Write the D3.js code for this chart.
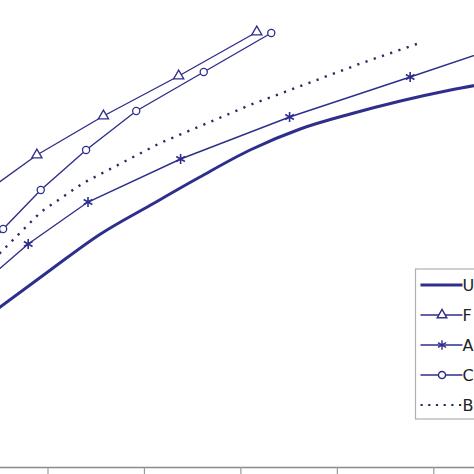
<!DOCTYPE html>
<html>
<head>
<meta charset="utf-8">
<script src="https://cdn.jsdelivr.net/npm/d3@7"></script>
<style>
  body { margin: 0; background: #fff; }
  svg { display: block; overflow: hidden; font-family: "DejaVu Sans", sans-serif; }
</style>
</head>
<body>
<svg id="chart" width="474" height="474"></svg>
<script>
// values (x in axis units, y in axis units)
const xTicks = [1, 2, 3, 4, 5];

const seriesU = [
  [0.41, 15.3], [1.03, 19.7], [1.55, 23.3], [2.07, 26.2], [2.58, 29.0],
  [3.10, 31.7], [3.62, 33.8], [4.14, 35.3], [4.66, 36.6], [5.18, 37.7], [5.70, 38.6]
];
const seriesF = [[0.20, 26.4], [0.89, 31.2], [1.58, 35.1], [2.36, 39.1], [3.17, 43.5]];
const seriesA = [[0.20, 17.3], [0.80, 22.3], [1.42, 26.5], [2.38, 30.8], [3.51, 35.0], [4.76, 39.0], [6.11, 43.4]];
const seriesC = [[0.13, 19.4], [0.54, 23.8], [0.93, 27.7], [1.40, 31.7], [1.92, 35.6], [2.62, 39.5], [3.32, 43.4]];
const seriesB = [[0.31, 19.5], [0.57, 22.0], [0.93, 25.5], [1.37, 28.4], [2.17, 32.4], [3.10, 36.2], [4.26, 40.4], [4.83, 42.3]];

const legendLabels = ["U", "F", "A", "C", "B"];

const navy = "#2e2e8c";

const svg = d3.select("#chart");

const xScale = d3.scaleLinear()
    .domain([0, 6])
    .range([47.5 - 96.45, 47.5 + 5 * 96.45]);

const yScale = d3.scaleLinear()
    .domain([0, 50])
    .range([467, -33]);

// x axis (labels fall outside the visible window)
const xAxis = d3.axisBottom(xScale)
    .tickValues(xTicks)
    .tickSize(12)
    .tickSizeOuter(0)
    .tickFormat(() => "");

const gx = svg.append("g")
    .attr("transform", `translate(0, ${yScale(0)})`)
    .call(xAxis);
gx.select(".domain").attr("stroke", "#8a8a8a").attr("stroke-width", 1.6);
gx.selectAll(".tick line").attr("stroke", "#9a9a9a").attr("stroke-width", 1.2);

const line = d3.line()
    .x(d => xScale(d[0]))
    .y(d => yScale(d[1]));

const smooth = d3.line()
    .curve(d3.curveMonotoneX)
    .x(d => xScale(d[0]))
    .y(d => yScale(d[1]));

// U: thick solid
svg.append("path")
    .datum(seriesU)
    .attr("fill", "none")
    .attr("stroke", navy)
    .attr("stroke-width", 3)
    .attr("d", smooth);

// B: dotted
svg.append("path")
    .datum(seriesB)
    .attr("fill", "none")
    .attr("stroke", "#2a2a66")
    .attr("stroke-width", 2.4)
    .attr("stroke-dasharray", "2.2,6.5")
    .attr("d", line);

const markerSeries = [
  { data: seriesF, symbol: d3.symbolTriangle, size: 45 },
  { data: seriesA, symbol: d3.symbolAsterisk, size: 70 },
  { data: seriesC, symbol: d3.symbolCircle, size: 40 }
];

markerSeries.forEach(s => {
  svg.append("path")
      .datum(s.data)
      .attr("fill", "none")
      .attr("stroke", navy)
      .attr("stroke-width", 1.4)
      .attr("d", line);

  svg.selectAll(null)
      .data(s.data)
      .join("path")
      .attr("transform", d => `translate(${xScale(d[0])}, ${yScale(d[1])})`)
      .attr("d", d3.symbol(s.symbol, s.size))
      .attr("fill", s.symbol === d3.symbolAsterisk ? "none" : "#fff")
      .attr("stroke", navy)
      .attr("stroke-width", s.symbol === d3.symbolAsterisk ? 1.6 : 1.3);
});

// legend
const legend = svg.append("g").attr("transform", "translate(415.5, 269)");
legend.append("rect")
    .attr("width", 90)
    .attr("height", 150)
    .attr("fill", "#fff")
    .attr("stroke", "#b0b0b0")
    .attr("stroke-width", 1.2);

const legendStyles = [
  { width: 3, dash: null, symbol: null, color: navy },
  { width: 1.4, dash: null, symbol: d3.symbolTriangle, color: navy },
  { width: 1.4, dash: null, symbol: d3.symbolAsterisk, color: navy },
  { width: 1.4, dash: null, symbol: d3.symbolCircle, color: navy },
  { width: 2.2, dash: "2.2,5.5", symbol: null, color: "#2a2a66" }
];

const rowY = d3.scalePoint().domain(legendLabels).range([16, 136]);

legendLabels.forEach((label, i) => {
  const st = legendStyles[i];
  const y = rowY(label);
  legend.append("line")
      .attr("x1", 5).attr("x2", 47)
      .attr("y1", y).attr("y2", y)
      .attr("stroke", st.color)
      .attr("stroke-width", st.width)
      .attr("stroke-dasharray", st.dash);
  if (st.symbol) {
    legend.append("path")
        .attr("transform", `translate(26.5, ${y})`)
        .attr("d", d3.symbol(st.symbol, st.symbol === d3.symbolAsterisk ? 60 : 40))
        .attr("fill", st.symbol === d3.symbolAsterisk ? "none" : "#fff")
        .attr("stroke", st.color)
        .attr("stroke-width", 1.4);
  }
  legend.append("text")
      .attr("x", 47)
      .attr("y", y)
      .attr("dy", "0.36em")
      .attr("font-size", 16)
      .attr("fill", "#222")
      .text(label);
});
</script>
</body>
</html>
